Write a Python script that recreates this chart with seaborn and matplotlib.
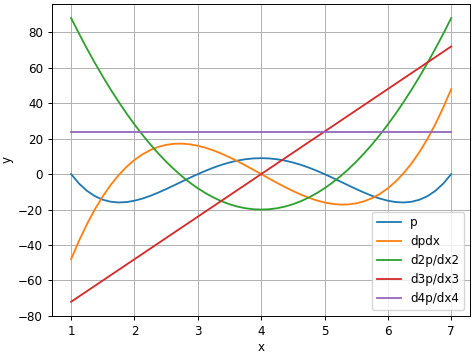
import matplotlib
matplotlib.use("Agg")
import matplotlib.pyplot as plt
import seaborn as sns
import pandas as pd

x = [1.0, 1.125, 1.25, 1.375, 1.5, 1.625, 1.75, 1.875, 2.0, 2.125, 2.25, 2.375, 2.5,
     2.625, 2.75, 2.875, 3.0, 3.125, 3.25, 3.375, 3.5, 3.625, 3.75, 3.875, 4.0,
     4.125, 4.25, 4.375, 4.5, 4.625, 4.75, 4.875, 5.0, 5.125, 5.25, 5.375, 5.5,
     5.625, 5.75, 5.875, 6.0, 6.125, 6.25, 6.375, 6.5, 6.625, 6.75, 6.875, 7.0]
p = [0.0, -5.34, -9.43, -12.43, -14.44, -15.59, -16.0, -15.77, -15.0, -13.8, -12.25, -10.43, -8.44,
     -6.33, -4.18, -2.05, 0.0, 1.93, 3.69, 5.25, 6.56, 7.61, 8.38, 8.84, 9.0,
     8.84, 8.38, 7.61, 6.56, 5.25, 3.69, 1.93, 0.0, -2.05, -4.18, -6.33, -8.44,
     -10.43, -12.25, -13.8, -15.0, -15.77, -16.0, -15.59, -14.44, -12.43, -9.43, -5.34, 0.0]
dpdx = [-48.0, -37.55, -28.19, -19.85, -12.5, -6.09, -0.56, 4.12, 8.0, 11.13, 13.56, 15.34, 16.5,
        17.1, 17.19, 16.8, 16.0, 14.82, 13.31, 11.52, 9.5, 7.29, 4.94, 2.49, 0.0,
        -2.49, -4.94, -7.29, -9.5, -11.52, -13.31, -14.82, -16.0, -16.8, -17.19, -17.1, -16.5,
        -15.34, -13.56, -11.13, -8.0, -4.12, 0.56, 6.09, 12.5, 19.85, 28.19, 37.55, 48.0]
d2p = [88.0, 79.19, 70.75, 62.69, 55.0, 47.69, 40.75, 34.19, 28.0, 22.19, 16.75, 11.69, 7.0,
       2.69, -1.25, -4.81, -8.0, -10.81, -13.25, -15.31, -17.0, -18.31, -19.25, -19.81, -20.0,
       -19.81, -19.25, -18.31, -17.0, -15.31, -13.25, -10.81, -8.0, -4.81, -1.25, 2.69, 7.0,
       11.69, 16.75, 22.19, 28.0, 34.19, 40.75, 47.69, 55.0, 62.69, 70.75, 79.19, 88.0]
d3p = [-72, -69, -66, -63, -60, -57, -54, -51, -48, -45, -42, -39, -36,
       -33, -30, -27, -24, -21, -18, -15, -12, -9, -6, -3, 0,
       3, 6, 9, 12, 15, 18, 21, 24, 27, 30, 33, 36,
       39, 42, 45, 48, 51, 54, 57, 60, 63, 66, 69, 72]
d4p = [24] * 49
labels = ["p", "dpdx", "d2p/dx2", "d3p/dx3", "d4p/dx4"]

series = [p, dpdx, d2p, d3p, d4p]
rows = []
for lab, vals in zip(labels, series):
    for xi, yi in zip(x, vals):
        rows.append({"x": xi, "y": yi, "series": lab})
df = pd.DataFrame(rows)

plt.rcParams.update({
    "font.size": 8.6,
    "axes.linewidth": 0.7,
    "xtick.major.width": 0.7,
    "ytick.major.width": 0.7,
    "xtick.major.size": 3.0,
    "ytick.major.size": 3.0,
    "legend.fontsize": 8.6,
})

fig, ax = plt.subplots(figsize=(4.74, 3.55), dpi=100)
sns.lineplot(data=df, x="x", y="y", hue="series", hue_order=labels,
             palette=sns.color_palette("tab10", 5), ax=ax, linewidth=1.3)
ax.grid(True, color="#b0b0b0", linewidth=0.7)
ax.set_axisbelow(True)
ax.set_xlim(0.7, 7.3)
ax.set_ylim(-80, 96)
ax.set_xticks([1, 2, 3, 4, 5, 6, 7])
ax.set_yticks([-80, -60, -40, -20, 0, 20, 40, 60, 80])
ax.set_xlabel("x", labelpad=2)
ax.set_ylabel("y", labelpad=3)
ax.legend(loc="lower right", title=None)
fig.subplots_adjust(left=0.11, right=0.992, top=0.989, bottom=0.11)
fig.savefig("out.png", dpi=100)
